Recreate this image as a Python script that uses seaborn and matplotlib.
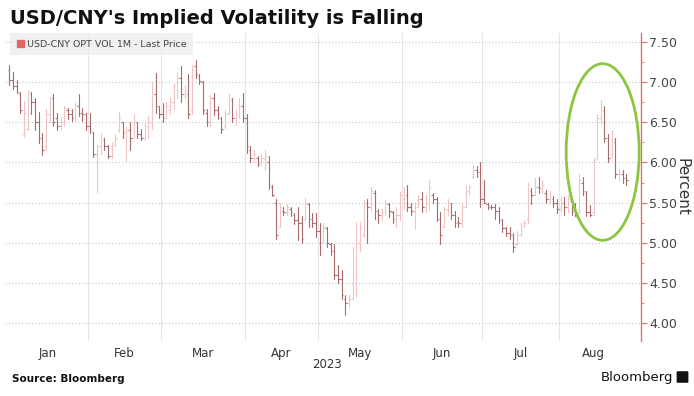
import matplotlib
matplotlib.use('Agg')
import matplotlib.pyplot as plt
import seaborn as sns
import numpy as np
import pandas as pd
from matplotlib.patches import Ellipse, Patch, FancyBboxPatch
from matplotlib.ticker import MultipleLocator, FixedLocator, NullFormatter

# USD-CNY 1M implied vol, daily bars Jan 2 - Aug 25 2023
open_px = [
    # Jan
    7.15, 7.03, 6.95, 6.86, 6.35, 6.42, 6.85, 6.75, 6.50, 6.30, 6.20, 6.60, 6.80, 6.55, 6.45, 6.50, 6.65, 6.60, 6.55, 6.70, 6.62, 6.60,
    # Feb
    6.45, 6.38, 6.10, 6.20, 6.28, 6.20, 6.08, 6.22, 6.40, 6.50, 6.10, 6.40, 6.30, 6.50, 6.35, 6.30, 6.45, 6.50, 6.85, 6.70,
    # Mar
    6.60, 6.55, 6.65, 6.75, 6.90, 7.05, 6.85, 6.85, 6.65, 7.20, 7.08, 7.00, 6.62, 6.50, 6.80, 6.65, 6.55, 6.45, 6.62, 6.78, 6.55, 6.60, 6.70,
    # Apr
    6.55, 6.15, 6.05, 6.05, 6.00, 6.05, 6.00, 5.70, 5.50, 5.20, 5.40, 5.38, 5.42, 5.35, 5.28, 5.25, 5.30, 5.48, 5.30, 5.25,
    # May
    5.15, 5.00, 5.18, 4.98, 4.90, 4.60, 4.55, 4.30, 4.25, 4.30, 4.40, 5.00, 5.10, 5.50, 5.45, 5.62, 5.40, 5.35, 5.38, 5.48, 5.38, 5.30, 5.35,
    # Jun
    5.55, 5.60, 5.45, 5.40, 5.45, 5.55, 5.45, 5.50, 5.60, 5.55, 5.30, 5.20, 5.42, 5.50, 5.35, 5.26, 5.24, 5.45, 5.65, 5.82, 5.90, 5.88,
    # Jul
    5.55, 5.48, 5.45, 5.44, 5.40, 5.28, 5.18, 5.12, 5.10, 4.98, 5.10, 5.20, 5.30, 5.65, 5.60, 5.70, 5.68, 5.62, 5.55, 5.55, 5.50,
    # Aug
    5.42, 5.50, 5.45, 5.52, 5.40, 5.38, 5.75, 5.62, 5.38, 5.38, 6.05, 6.55, 6.65, 6.30, 6.10, 6.25, 5.85, 5.85, 5.80,
]
high_px = [
    7.21, 7.13, 7.03, 6.88, 6.76, 6.90, 6.88, 6.80, 6.63, 6.37, 6.66, 6.82, 6.85, 6.62, 6.57, 6.70, 6.68, 6.66, 6.74, 6.85, 6.68, 6.62,
    6.61, 6.38, 6.22, 6.37, 6.30, 6.22, 6.25, 6.35, 6.63, 6.50, 6.44, 6.50, 6.60, 6.50, 6.42, 6.50, 6.58, 6.99, 7.11, 6.70,
    6.74, 6.75, 6.82, 6.98, 7.12, 7.20, 6.97, 7.10, 7.21, 7.27, 7.10, 7.02, 6.66, 6.84, 6.86, 6.70, 6.57, 6.65, 6.85, 6.80, 6.65, 6.80, 6.86,
    6.60, 6.20, 6.15, 6.08, 6.10, 6.15, 6.08, 5.72, 5.55, 5.50, 5.45, 5.48, 5.45, 5.37, 5.45, 5.33, 5.56, 5.50, 5.37, 5.37,
    5.25, 5.25, 5.20, 5.00, 4.98, 4.72, 4.66, 4.35, 4.35, 4.95, 5.26, 5.26, 5.53, 5.55, 5.70, 5.66, 5.42, 5.42, 5.53, 5.50, 5.40, 5.45, 5.63,
    5.70, 5.72, 5.50, 5.51, 5.60, 5.63, 5.60, 5.78, 5.62, 5.57, 5.38, 5.45, 5.55, 5.50, 5.40, 5.32, 5.50, 5.72, 5.72, 5.97, 5.95, 6.00,
    5.78, 5.50, 5.47, 5.48, 5.45, 5.30, 5.20, 5.20, 5.12, 5.15, 5.25, 5.28, 5.74, 5.68, 5.80, 5.82, 5.78, 5.66, 5.65, 5.58, 5.55,
    5.58, 5.57, 5.60, 5.55, 5.50, 5.85, 5.82, 5.65, 5.47, 6.05, 6.60, 6.78, 6.70, 6.35, 6.40, 6.30, 5.92, 5.90, 5.85,
]
low_px = [
    6.96, 6.92, 6.86, 6.62, 6.32, 6.40, 6.60, 6.40, 6.24, 6.09, 6.15, 6.50, 6.45, 6.40, 6.40, 6.45, 6.54, 6.52, 6.52, 6.58, 6.52, 6.40,
    6.37, 6.07, 5.63, 6.10, 6.15, 6.05, 6.05, 6.20, 6.38, 6.30, 6.02, 6.15, 6.32, 6.30, 6.28, 6.28, 6.30, 6.42, 6.62, 6.55,
    6.50, 6.55, 6.60, 6.67, 6.80, 6.75, 6.80, 6.55, 6.60, 7.05, 6.98, 6.60, 6.45, 6.45, 6.59, 6.54, 6.37, 6.43, 6.60, 6.50, 6.47, 6.55, 6.50,
    6.12, 6.00, 6.00, 5.95, 5.97, 5.90, 5.67, 5.58, 5.05, 5.20, 5.35, 5.35, 5.33, 5.23, 5.04, 5.00, 5.28, 5.20, 5.20, 5.07,
    4.85, 5.00, 4.95, 4.85, 4.55, 4.50, 4.30, 4.10, 4.20, 4.30, 4.33, 4.90, 5.07, 5.00, 5.40, 5.30, 5.25, 5.28, 5.35, 5.32, 5.25, 5.20, 5.28,
    5.42, 5.39, 5.35, 5.17, 5.45, 5.38, 5.38, 5.42, 5.50, 5.27, 4.98, 5.20, 5.35, 5.30, 5.20, 5.20, 5.20, 5.45, 5.60, 5.80, 5.82, 5.45,
    5.50, 5.42, 5.42, 5.30, 5.25, 5.13, 5.08, 5.05, 4.88, 4.97, 5.10, 5.20, 5.25, 5.48, 5.60, 5.62, 5.62, 5.50, 5.50, 5.45, 5.37,
    5.38, 5.35, 5.38, 5.35, 5.33, 5.37, 5.60, 5.33, 5.33, 5.35, 6.03, 6.48, 6.25, 6.00, 6.05, 5.80, 5.78, 5.75, 5.72,
]
close_px = [
    7.03, 6.95, 6.88, 6.65, 6.62, 6.88, 6.75, 6.50, 6.30, 6.15, 6.60, 6.80, 6.50, 6.45, 6.50, 6.68, 6.60, 6.55, 6.72, 6.62, 6.60, 6.45,
    6.40, 6.10, 6.20, 6.30, 6.20, 6.08, 6.22, 6.30, 6.55, 6.38, 6.40, 6.30, 6.52, 6.35, 6.30, 6.45, 6.50, 6.85, 6.70, 6.60,
    6.55, 6.70, 6.75, 6.95, 7.05, 6.85, 6.90, 6.60, 7.15, 7.10, 7.02, 6.65, 6.50, 6.80, 6.65, 6.60, 6.42, 6.60, 6.80, 6.55, 6.60, 6.70, 6.55,
    6.20, 6.05, 6.10, 5.98, 6.05, 6.08, 5.72, 5.60, 5.10, 5.45, 5.38, 5.45, 5.38, 5.28, 5.25, 5.05, 5.50, 5.30, 5.25, 5.15,
    5.00, 5.20, 5.00, 4.90, 4.60, 4.55, 4.35, 4.25, 4.30, 4.60, 5.00, 5.20, 5.50, 5.45, 5.65, 5.40, 5.35, 5.38, 5.50, 5.40, 5.30, 5.35, 5.60,
    5.60, 5.45, 5.40, 5.45, 5.55, 5.45, 5.50, 5.70, 5.55, 5.30, 5.10, 5.42, 5.50, 5.35, 5.25, 5.24, 5.45, 5.65, 5.70, 5.90, 5.88, 5.55,
    5.50, 5.45, 5.44, 5.40, 5.30, 5.18, 5.12, 5.10, 4.95, 5.10, 5.20, 5.25, 5.65, 5.60, 5.70, 5.68, 5.72, 5.55, 5.58, 5.50, 5.42,
    5.50, 5.45, 5.55, 5.40, 5.35, 5.78, 5.65, 5.38, 5.35, 6.03, 6.55, 6.68, 6.30, 6.05, 6.35, 5.85, 5.85, 5.80, 5.78,
]
month_labels = ['Jan', 'Feb', 'Mar', 'Apr', 'May', 'Jun', 'Jul', 'Aug']
y_ticks = [4.0, 4.5, 5.0, 5.5, 6.0, 6.5, 7.0, 7.5]

dates = pd.bdate_range('2023-01-02', '2023-08-25')
df = pd.DataFrame({'date': dates, 'open': open_px, 'high': high_px,
                   'low': low_px, 'close': close_px})
df['idx'] = np.arange(len(df))
df['dir'] = np.where(df['close'] >= df['open'], 'up', 'down')

# long form: one vertical high-low segment per day
long = df.melt(id_vars=['idx', 'dir'], value_vars=['low', 'high'], value_name='val')

up_col = '#efc4c4'
down_col = '#a66a6a'
pal = {'up': up_col, 'down': down_col}

sns.set_style('white')
plt.rcParams['font.family'] = ['DejaVu Sans']

fig = plt.figure(figsize=(6.94, 3.96), dpi=100)
ax = fig.add_axes([5 / 694, 1 - 341 / 396, 636 / 694, 308 / 396])

sns.lineplot(data=long, x='idx', y='val', units='idx', estimator=None, hue='dir',
             palette=pal, legend=False, lw=0.8, ax=ax, sort=False)

cols = df['dir'].map(pal)
ax.hlines(df['open'], df['idx'] - 0.45, df['idx'], colors=cols, lw=0.8)
ax.hlines(df['close'], df['idx'], df['idx'] + 0.45, colors=cols, lw=0.8)

# month boundaries and centres
month_start = df.groupby(df['date'].dt.month)['idx'].min().values - 0.5
month_mid = df.groupby(df['date'].dt.month)['idx'].mean().values

ax.set_xlim(-1.23, 173.0)
ax.set_ylim(3.776, 7.612)

for b in month_start[1:]:
    ax.axvline(b, color='#e6e6e6', lw=0.8, zorder=0)
for t in y_ticks:
    ax.axhline(t, color='#c4c4c4', lw=0.8, ls=(0, (1, 2)), zorder=0)

ax.xaxis.set_major_locator(FixedLocator(list(month_start[1:])))
ax.xaxis.set_major_formatter(NullFormatter())
ax.xaxis.set_minor_locator(FixedLocator(list(month_mid)))
ax.set_xticklabels(month_labels, minor=True)
ax.tick_params(axis='x', which='major', length=6, color='#dddddd', direction='out')
ax.tick_params(axis='x', which='minor', length=0, pad=4, labelsize=8.5, labelcolor='#333333')
ax.set_xlabel('')

ax.yaxis.tick_right()
ax.yaxis.set_label_position('right')
ax.set_yticks(y_ticks)
ax.set_yticklabels([f'{t:.2f}' for t in y_ticks])
ax.yaxis.set_minor_locator(MultipleLocator(0.25))
ax.tick_params(axis='y', which='major', length=4, color='#e07070', labelsize=9,
               labelcolor='#444444', pad=2)
ax.tick_params(axis='y', which='minor', length=2, color='#e07070')
ax.set_ylabel('Percent', rotation=270, labelpad=9, fontsize=11, color='#333333')

for s in ['top', 'left', 'bottom']:
    ax.spines[s].set_visible(False)
ax.spines['right'].set_color('#e07070')
ax.spines['right'].set_linewidth(1.0)

# green ellipse around the August spike
ax.add_patch(Ellipse((162.5, 6.13), width=20, height=2.2, fill=False,
                     ec='#8cc63f', lw=2, zorder=5))

leg = ax.legend(handles=[Patch(color='#e06666')], labels=['USD-CNY OPT VOL 1M - Last Price'],
                loc='upper left', bbox_to_anchor=(0.008, 1.0), frameon=True, fancybox=False,
                fontsize=6.8, handlelength=0.8, handleheight=0.8, handletextpad=0.3,
                borderpad=0.7, borderaxespad=0)
leg.get_frame().set_facecolor('#eeeeee')
leg.get_frame().set_edgecolor('none')
for txt in leg.get_texts():
    txt.set_color('#444444')

fig.text(327 / 694, 1 - 365 / 396, '2023', ha='center', va='center', fontsize=8.5, color='#333333')
fig.text(10 / 694, 1 - 18 / 396, "USD/CNY's Implied Volatility is Falling", ha='left', va='center',
         fontsize=14, fontweight='bold', color='#111111')
fig.text(12 / 694, 1 - 379 / 396, 'Source: Bloomberg', ha='left', va='center',
         fontsize=7.5, fontweight='bold', color='#111111')
fig.text(673 / 694, 1 - 377 / 396, 'Bloomberg', ha='right', va='center',
         fontsize=9.5, color='#111111')
fig.patches.append(FancyBboxPatch((678 / 694, 1 - 382 / 396), 9 / 694, 10 / 396,
                                  boxstyle='round,pad=0.002', fc='#111111', ec='none',
                                  transform=fig.transFigure, figure=fig))

fig.savefig('out.png', dpi=100)
